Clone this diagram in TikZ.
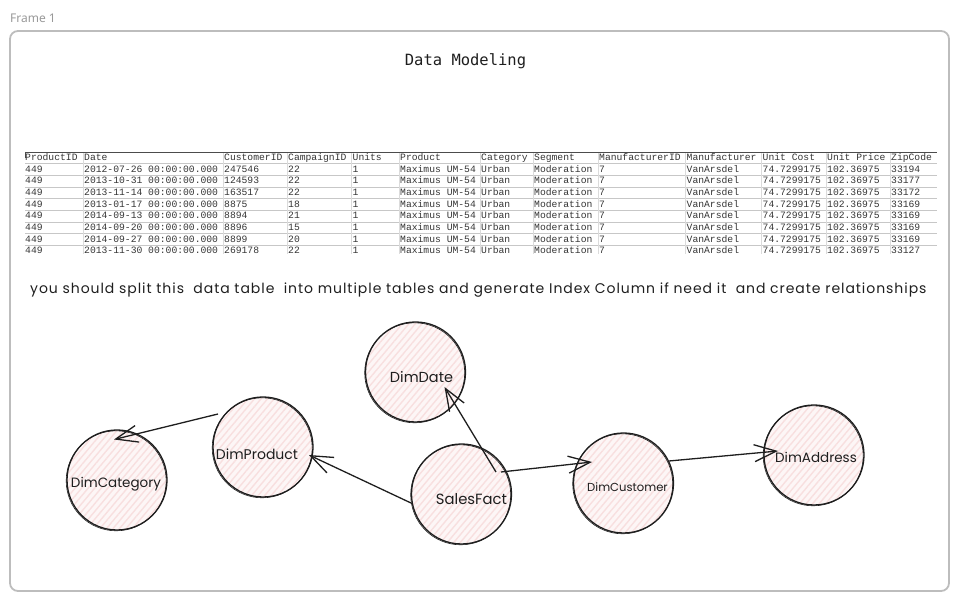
\documentclass[tikz,border=0pt]{standalone}
\usepackage{fontspec}
\setmonofont{Liberation Mono}
\newfontfamily\titlefont{DejaVu Sans Mono}
\newfontfamily\framefont{Noto Sans}
\newfontfamily\sketchfont{Poppins}
\usetikzlibrary{arrows.meta,patterns.meta}
\definecolor{ink}{HTML}{1E1E1E}
\definecolor{framegray}{HTML}{BDBDBD}
\definecolor{hatchbg}{HTML}{FDF6F6}
\definecolor{hatchline}{HTML}{F8DFDF}
\tikzset{
    table/.style={anchor=base west,inner sep=0pt,font=\ttfamily\fontsize{9.7}{10}\selectfont,text=ink!90},
    dimcircle/.style={circle,draw=ink,line width=1.3pt,minimum size=100pt,inner sep=0pt,
        preaction={fill=hatchbg},
        pattern={Lines[angle=50,distance=5pt,line width=1.4pt]},pattern color=hatchline,
        postaction={draw=ink,line width=0.6pt,transform canvas={shift={(-0.8,0.8)}}}},
    dimlabel/.style={inner sep=0pt,text=ink,font=\sketchfont\fontsize{14}{15}\selectfont},
    relation/.style={draw=ink,line width=1.3pt,-{Straight Barb[length=22pt,width=17pt]}}
}
\begin{document}
\begin{tikzpicture}[x=1pt,y=-1pt]
    \useasboundingbox (0,0) rectangle (959,601);

    \node[anchor=west,inner sep=0pt,text=black!40,font=\framefont\fontsize{12}{13}\selectfont] (frametitle) at (10,18) {Frame 1};
    \node[draw=framegray,line width=1.8pt,rounded corners=8pt,minimum width=939pt,minimum height=560pt,inner sep=0pt] (frame) at (479.5,311) {};
    \node[text=ink,inner sep=0pt,font=\titlefont\fontsize{15.5}{16}\selectfont] (title) at (465.5,61) {Data Modeling};

    % table
    \foreach \y in {163,175,187,198.5,210,222,233.5,245}
        \draw[black!22,line width=0.7pt] (25,\y)--(937,\y);
    \foreach \x in {84,224,288,352.5,400,481,534,599,686.5,762.5,827,891}
        \draw[black!14,line width=0.6pt] (\x-1,152)--(\x-1,254);
    \draw[black!70,line width=0.9pt] (25,152)--(937,152);
    \draw[black!70,line width=0.8pt] (25,152)--(25,158);

    \node[table] (hproduct) at (25,160.7) {ProductID};
    \node[table] (hdate) at (84,160.7) {Date};
    \node[table] (hcustomer) at (224,160.7) {CustomerID};
    \node[table] (hcampaign) at (288,160.7) {CampaignID};
    \node[table] (hunits) at (352.5,160.7) {Units};
    \node[table] (hname) at (400,160.7) {Product};
    \node[table] (hcategory) at (481,160.7) {Category};
    \node[table] (hsegment) at (534,160.7) {Segment};
    \node[table] (hmanid) at (599,160.7) {ManufacturerID};
    \node[table] (hman) at (686.5,160.7) {Manufacturer};
    \node[table] (hcost) at (762.5,160.7) {Unit Cost};
    \node[table] (hprice) at (827,160.7) {Unit Price};
    \node[table] (hzip) at (891,160.7) {ZipCode};

    \foreach \y/\d/\c/\k/\z [count=\r] in {
        172.2/2012-07-26/247546/22/33194,
        184/2013-10-31/124593/22/33177,
        195.7/2013-11-14/163517/22/33172,
        207.4/2013-01-17/8875/18/33169,
        219/2014-09-13/8894/21/33169,
        230.8/2014-09-20/8896/15/33169,
        242.5/2014-09-27/8899/20/33169,
        254/2013-11-30/269178/22/33127}{
        \node[table] (product\r) at (25,\y) {449};
        \node[table] (date\r) at (84,\y) {\d{} 00:00:00.000};
        \node[table] (customer\r) at (224,\y) {\c};
        \node[table] (campaign\r) at (288,\y) {\k};
        \node[table] (units\r) at (352.5,\y) {1};
        \node[table] (name\r) at (400,\y) {Maximus UM-54};
        \node[table] (category\r) at (481,\y) {Urban};
        \node[table] (segment\r) at (534,\y) {Moderation};
        \node[table] (manid\r) at (599,\y) {7};
        \node[table] (man\r) at (686.5,\y) {VanArsdel};
        \node[table] (cost\r) at (762.5,\y) {74.7299175};
        \node[table] (price\r) at (827,\y) {102.36975};
        \node[table] (zip\r) at (891,\y) {\z};
    }

    \node[dimlabel,anchor=west] (note) at (30,290) {\addfontfeature{LetterSpace=6.8}you should split this\ \ data table\ \ into multiple tables and generate Index Column if need it\ \ and create relationships};

    % star schema
    \node[dimcircle] (DimCategory) at (117,480) {};
    \node[dimcircle] (DimProduct) at (263,447) {};
    \node[dimcircle] (DimDate) at (415.5,372) {};
    \node[dimcircle] (SalesFact) at (461.5,494) {};
    \node[dimcircle] (DimCustomer) at (623.5,483) {};
    \node[dimcircle] (DimAddress) at (814,455) {};

    \node[dimlabel,font=\sketchfont\fontsize{13.5}{15}\selectfont] (DimCategoryText) at (116,484) {DimCategory};
    \node[dimlabel] (DimProductText) at (257,454) {DimProduct};
    \node[dimlabel,font=\sketchfont\fontsize{14.5}{15}\selectfont] (DimDateText) at (421.5,377) {DimDate};
    \node[dimlabel,font=\sketchfont\fontsize{14.8}{15}\selectfont] (SalesFactText) at (471.5,499) {SalesFact};
    \node[dimlabel,font=\sketchfont\fontsize{11.6}{13}\selectfont] (DimCustomerText) at (627.5,487) {DimCustomer};
    \node[dimlabel,font=\sketchfont\fontsize{13.5}{15}\selectfont] (DimAddressText) at (816,457) {DimAddress};

    \draw[relation] ([shift={(-45,-33)}]DimProduct.center)--([shift={(-3,-40.5)}]DimCategory.center);
    \draw[relation] ([shift={(-50.5,9)}]SalesFact.center)--([shift={(46,8)}]DimProduct.center);
    \draw[relation] ([shift={(34.5,-22)}]SalesFact.center)--([shift={(29,15)}]DimDate.center);
    \draw[relation] ([shift={(39.5,-22)}]SalesFact.center)--([shift={(-31.5,-21)}]DimCustomer.center);
    \draw[relation] ([shift={(45.5,-22)}]DimCustomer.center)--([shift={(-36,-4)}]DimAddress.center);
\end{tikzpicture}
\end{document}
